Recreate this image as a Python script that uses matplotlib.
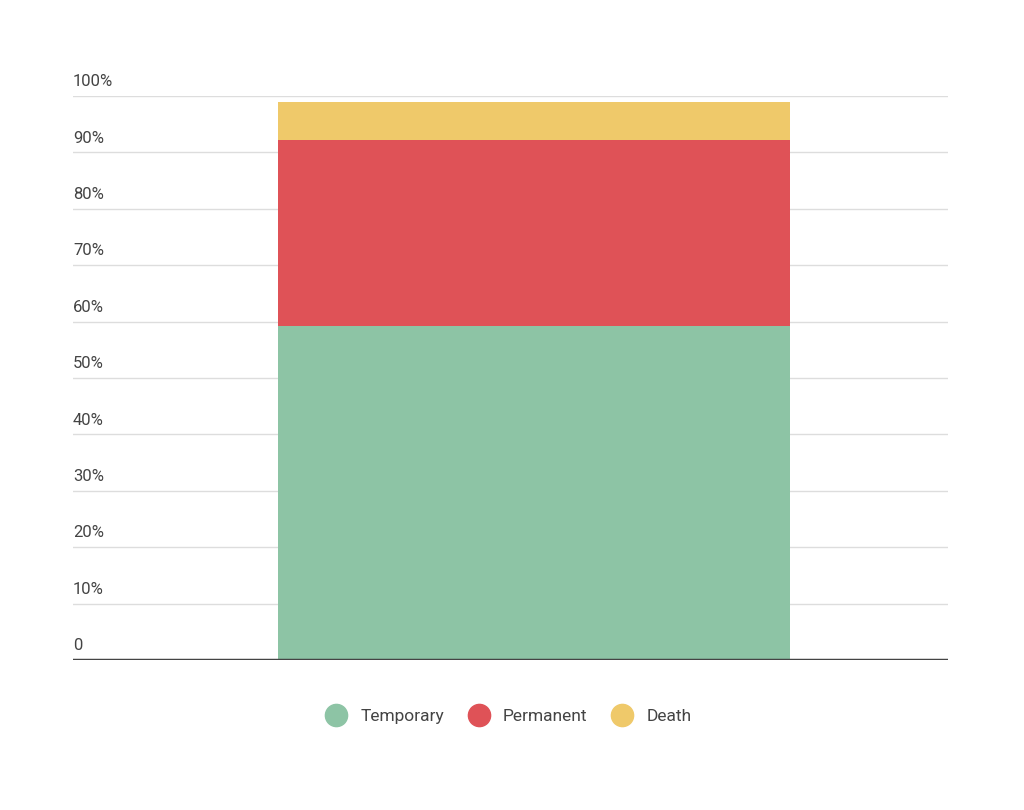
import matplotlib.pyplot as plt
from matplotlib.transforms import blended_transform_factory

plt.rcParams['font.family'] = ['Roboto', 'DejaVu Sans']

categories = ["Temporary", "Permanent", "Death"]
values = [59.2, 33.0, 6.7]
colors = ["#8dc4a5", "#df5257", "#efc96a"]
ticks = [0, 10, 20, 30, 40, 50, 60, 70, 80, 90, 100]
tick_labels = ["0"] + [f"{t}%" for t in ticks[1:]]

fig = plt.figure(figsize=(10.24, 8.1), dpi=100)
ax = fig.add_axes([73 / 1024, 1 - 660 / 810, 875 / 1024, 564 / 810])

bottom = 0
for name, v, c in zip(categories, values, colors):
    ax.bar(0, v, width=1, bottom=bottom, color=c, label=name, zorder=2)
    bottom += v

ax.set_xlim(-0.9004, 0.8086)
ax.set_ylim(0, 100)
for t in ticks[1:]:
    ax.axhline(t, color="#dddddd", lw=1, zorder=1)
ax.axhline(0, color="#444444", lw=2.5, zorder=3)

trans = blended_transform_factory(ax.transAxes, ax.transData)
for t, lab in zip(ticks, tick_labels):
    ax.text(0, t + 1.2, lab, transform=trans, ha="left", va="bottom",
            fontsize=12, color="#444444")

ax.set_xticks([])
ax.set_yticks([])
for s in ax.spines.values():
    s.set_visible(False)

fig.legend(loc="center", bbox_to_anchor=(505 / 1024, 1 - 716 / 810), ncol=3,
           frameon=False, fontsize=12, handlelength=1, handleheight=1,
           handletextpad=0.6, columnspacing=1.2,
           handler_map=None)
leg = fig.legends[0]
for h in leg.legend_handles:
    h.set_visible(False)
# circular markers for legend
import matplotlib.lines as mlines
handles = [mlines.Line2D([], [], marker="o", ls="", markersize=16, color=c) for c in colors]
leg.remove()
fig.legend(handles, categories, loc="center", bbox_to_anchor=(505 / 1024, 1 - 716 / 810),
           ncol=3, frameon=False, fontsize=12.5, handletextpad=0.4, columnspacing=1.0,
           labelcolor="#444444")

fig.savefig("out.png", dpi=100)
